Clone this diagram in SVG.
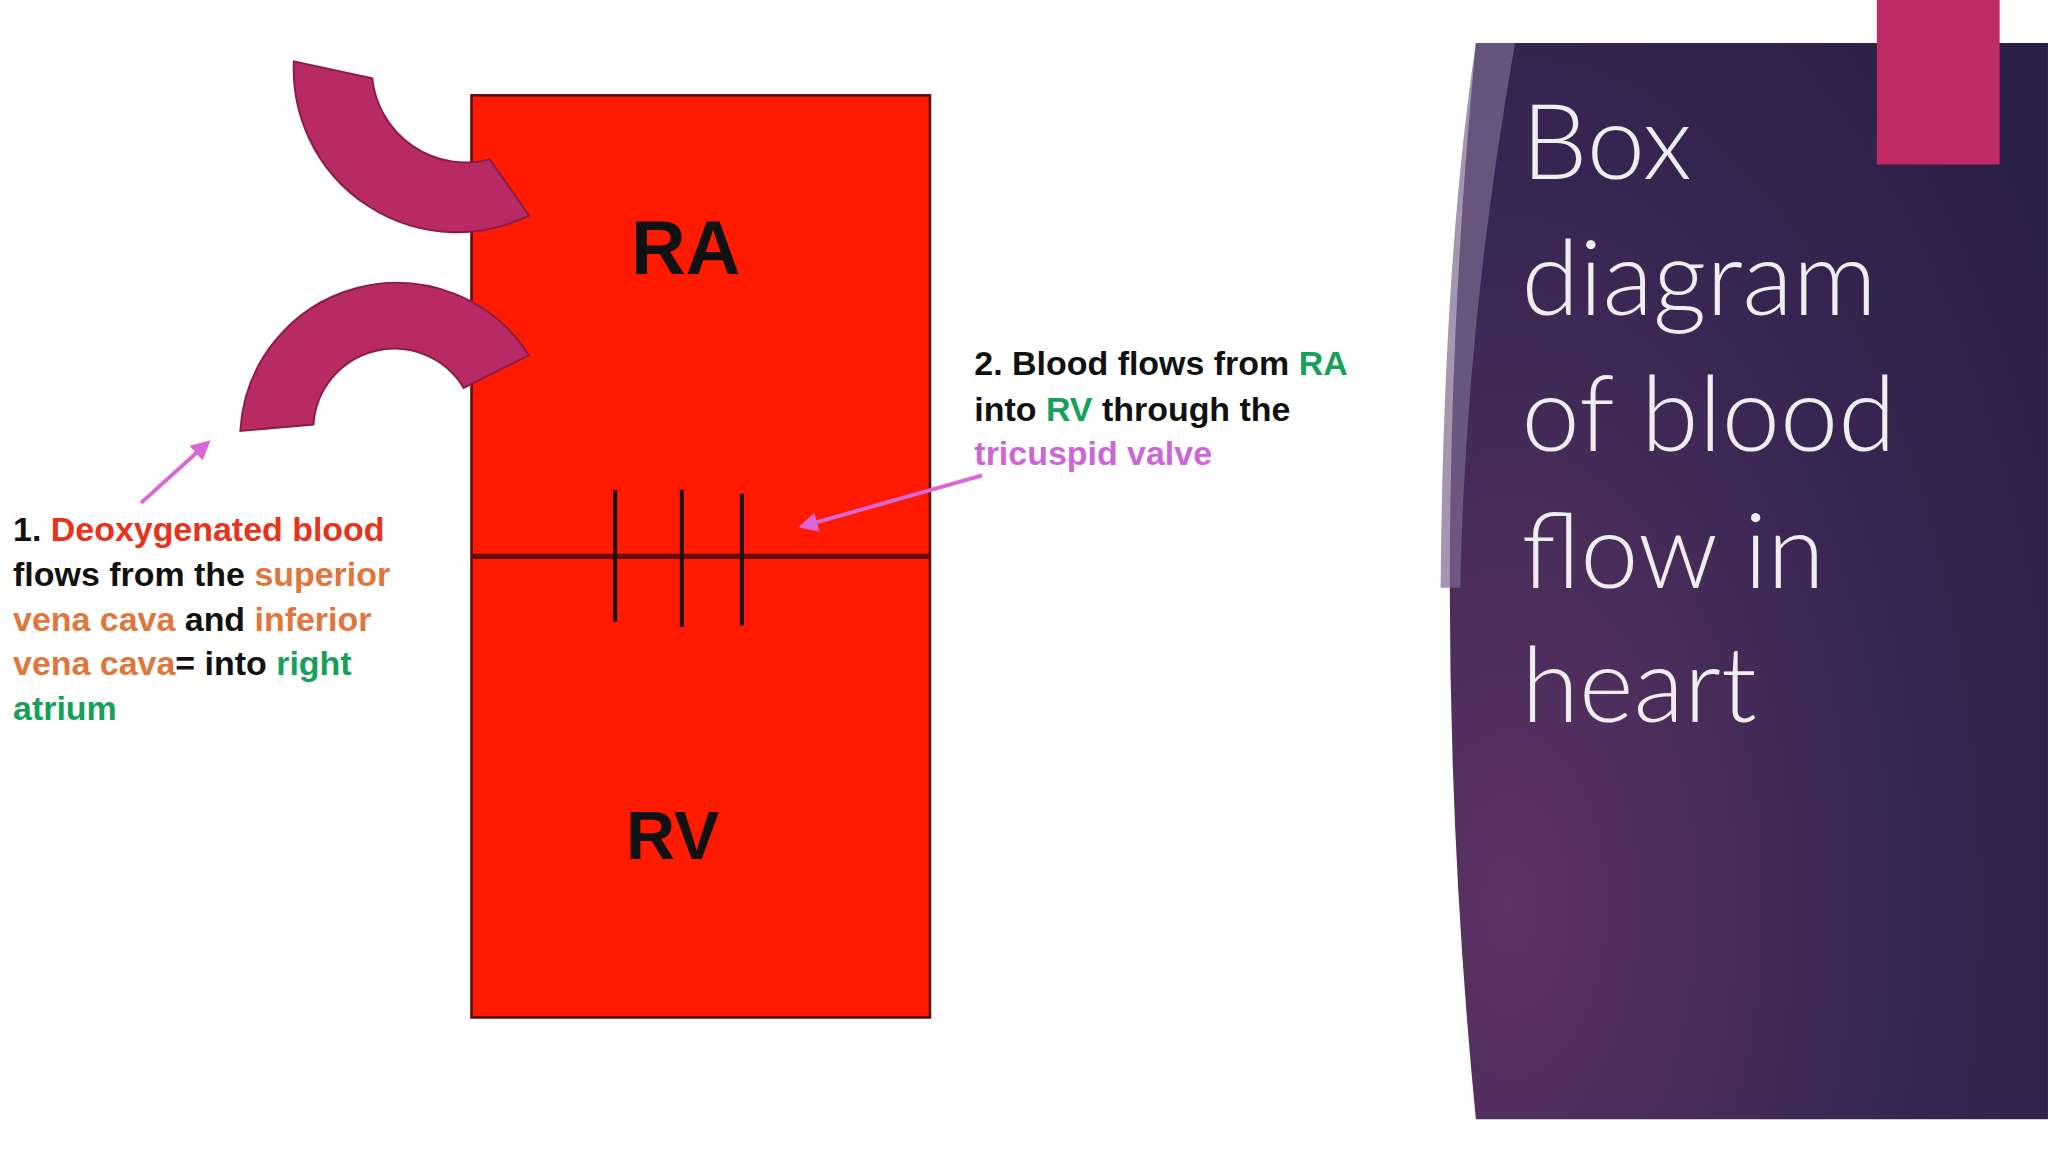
<svg xmlns="http://www.w3.org/2000/svg" width="2048" height="1152" viewBox="0 0 2048 1152">
<defs>
<radialGradient id="pg" cx="0.1" cy="0.8" r="1.1">
<stop offset="0" stop-color="#5c3363"/><stop offset="0.6" stop-color="#382652"/><stop offset="1" stop-color="#2a1f45"/>
</radialGradient>
<marker id="ah" viewBox="0 0 10 10" refX="8" refY="5" markerWidth="5" markerHeight="5" orient="auto-start-reverse"><path d="M0,0 L10,5 L0,10 Z" fill="#d966d6"/></marker>
<style>
.t{font-family:"Liberation Sans",Arial,sans-serif;font-weight:bold;font-size:26px;fill:#111}
.r{fill:#e8321c}.o{fill:#e0763c}.g{fill:#16a05a}.v{fill:#cc66d8}
.ttl{font-family:Lato,"Noto Sans",sans-serif;font-weight:300;font-size:80px;fill:#eee}
.vc{fill:#b82a63;stroke:#8a1d48;stroke-width:1.5}
</style>
</defs>
<rect width="2048" height="1152" fill="#fff"/>
<g transform="scale(1.3061)">
<g id="panel">
<path d="M1130,33 L1568,33 L1568,857 L1130,857 Q1090,450 1130,33 Z" fill="url(#pg)"/>
<path d="M1130,33 L1160,33 Q1122,250 1118,450 L1103,450 Q1105,200 1130,33 Z" fill="#7a6a8e" opacity="0.7"/>
<rect x="1437" y="0" width="94" height="126" fill="#c02a67"/>
<text class="ttl"><tspan x="1165" y="137">Box</tspan><tspan x="1165" y="241">diagram</tspan><tspan x="1165" y="345">of blood</tspan><tspan x="1165" y="450">flow in</tspan><tspan x="1165" y="553">heart</tspan></text>
</g>
<g id="heart">
<rect x="361" y="73" width="351" height="706" fill="#ff1a00" stroke="#5a1010" stroke-width="2"/>
<line x1="361" y1="426" x2="712" y2="426" stroke="#6a0a0a" stroke-width="4"/>
<g stroke="#111" stroke-width="3"><line x1="471" y1="375" x2="471" y2="476"/><line x1="522" y1="375" x2="522" y2="480"/><line x1="568" y1="378" x2="568" y2="479"/></g>
<text x="525" y="210" text-anchor="middle" font-family="Liberation Sans,Arial,sans-serif" font-weight="bold" font-size="58" fill="#111">RA</text>
<text x="515" y="658" text-anchor="middle" font-family="Liberation Sans,Arial,sans-serif" font-weight="bold" font-size="52" fill="#111">RV</text>
</g>
<g id="svc"><path class="vc" d="M225,47 A125,125 0 0 0 405,165 L375,122 A72,72 0 0 1 285,60 Z"/></g>
<g id="ivc"><path class="vc" d="M184,330 A120,120 0 0 1 405,272 L355,297 A62,62 0 0 0 240,325 Z"/></g>
<g id="connectors" stroke="#d966d6" stroke-width="3" fill="none">
<line x1="108" y1="385" x2="159" y2="339" marker-end="url(#ah)"/>
<line x1="752" y1="364" x2="614" y2="403" marker-end="url(#ah)"/>
</g>
<g id="label1"><text class="t"><tspan x="10" y="414">1. <tspan class="r">Deoxygenated blood</tspan></tspan><tspan x="10" y="449">flows from the <tspan class="o">superior</tspan></tspan><tspan x="10" y="483"><tspan class="o">vena cava</tspan> and <tspan class="o">inferior</tspan></tspan><tspan x="10" y="517"><tspan class="o">vena cava</tspan>= into <tspan class="g">right</tspan></tspan><tspan x="10" y="551" class="g">atrium</tspan></text></g>
<g id="label2"><text class="t"><tspan x="746" y="287">2. Blood flows from <tspan class="g">RA</tspan></tspan><tspan x="746" y="322">into <tspan class="g">RV</tspan> through the</tspan><tspan x="746" y="356" class="v">tricuspid valve</tspan></text></g>
</g>
</svg>
